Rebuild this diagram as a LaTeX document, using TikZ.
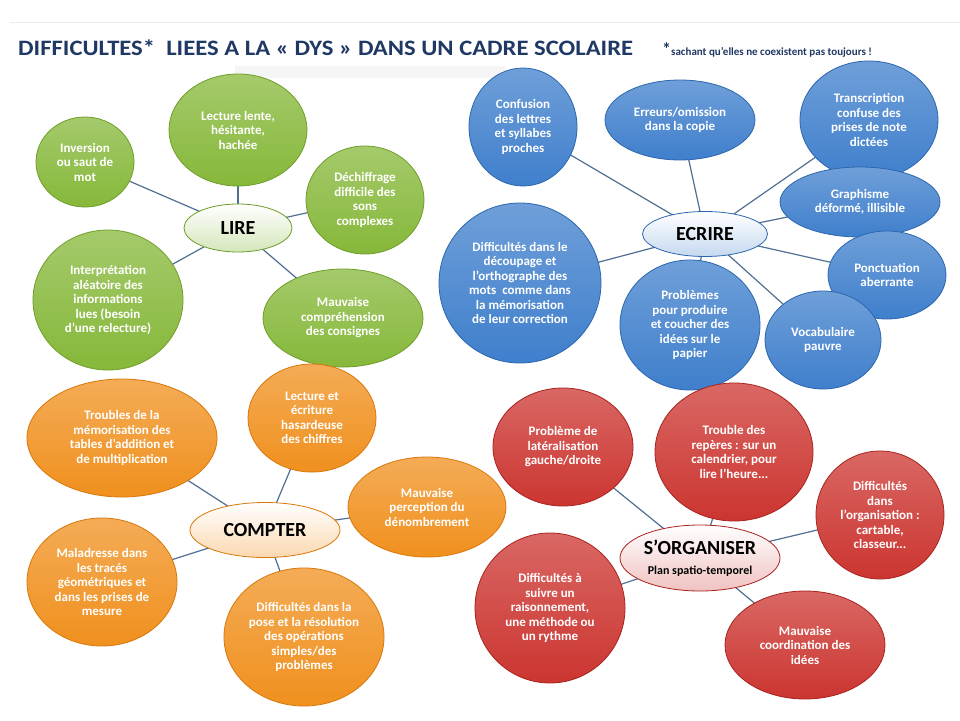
\documentclass[tikz,border=0pt]{standalone}
\usepackage{fontspec}
\setmainfont{Carlito}
\usetikzlibrary{shapes.geometric,backgrounds}
\definecolor{gA}{HTML}{86B83A}\definecolor{gB}{HTML}{6E9E28}
\definecolor{bA}{HTML}{3F7FCC}\definecolor{bB}{HTML}{2C66AE}
\definecolor{oA}{HTML}{F0901E}\definecolor{oB}{HTML}{D9770A}
\definecolor{rA}{HTML}{CC3530}\definecolor{rB}{HTML}{A8221E}
\definecolor{ln}{HTML}{4F6F93}
\definecolor{navy}{HTML}{1F3864}
\tikzset{
 bub/.style n args={2}{ellipse,inner sep=0pt,align=center,text=white,font=\bfseries\fontsize{13}{14.5}\selectfont,
   top color=#1!75!white,bottom color=#1,draw=#2,line width=0.8pt},
 ctr/.style n args={2}{ellipse,inner sep=0pt,align=center,text=black,font=\bfseries\fontsize{20}{22}\selectfont,
   top color=white,bottom color=#1,draw=#2,line width=0.8pt},
 lk/.style={draw=ln,line width=1.2pt}
}
\begin{document}
\begin{tikzpicture}[x=1pt,y=-1pt]
\useasboundingbox (0,0) rectangle (960,720);
\draw[black!8,line width=0.8pt] (10,22) -- (960,22);
\fill[black!4] (235,66) rectangle (505,78);
\node[anchor=west,text=navy,font=\bfseries\fontsize{22}{24}\selectfont,xscale=1.12,inner sep=0pt] (title) at (18,48) {DIFFICULTES*\ \ LIEES A LA « DYS » DANS UN CADRE SCOLAIRE};
\node[anchor=west,text=navy,font=\bfseries\fontsize{11}{12}\selectfont,inner sep=0pt] (note) at (662,50) {{\fontsize{18}{18}\selectfont *}sachant qu'elles ne coexistent pas toujours !};

% LIRE
\node[bub={gA}{gB},minimum width=98pt,minimum height=90pt] (g1) at (85,162) {Inversion\\ou saut de\\mot};
\node[bub={gA}{gB},minimum width=138pt,minimum height=112pt] (g2) at (238,130) {Lecture lente,\\hésitante,\\hachée};
\node[bub={gA}{gB},minimum width=118pt,minimum height=108pt] (g3) at (365,200) {Déchiffrage\\difficile des\\sons\\complexes};
\node[bub={gA}{gB},minimum width=150pt,minimum height=140pt] (g4) at (108,300) {Interprétation\\aléatoire des\\informations\\lues (besoin\\d'une relecture)};
\node[bub={gA}{gB},minimum width=160pt,minimum height=98pt] (g5) at (343,318) {Mauvaise\\compréhension\\des consignes};
\node[ctr={gA!35!white}{gB},minimum width=108pt,minimum height=48pt] (lire) at (238,228) {LIRE};

% ECRIRE
\node[bub={bA}{bB},minimum width=108pt,minimum height=118pt] (b1) at (523,127) {Confusion\\des lettres\\et syllabes\\proches};
\node[bub={bA}{bB},minimum width=150pt,minimum height=80pt] (b2) at (680,120) {Erreurs/omission\\dans la copie};
\node[bub={bA}{bB},minimum width=138pt,minimum height=118pt] (b3) at (869,120) {Transcription\\confuse des\\prises de note\\dictées};
\node[bub={bA}{bB},minimum width=160pt,minimum height=70pt] (b4) at (860,202) {Graphisme\\déformé, illisible};
\node[bub={bA}{bB},minimum width=162pt,minimum height=160pt] (b5) at (520,283) {Difficultés dans le\\découpage et\\l'orthographe des\\mots~ comme dans\\la mémorisation\\de leur correction};
\node[bub={bA}{bB},minimum width=140pt,minimum height=130pt] (b6) at (690,325) {Problèmes\\pour produire\\et coucher des\\idées sur le\\papier};
\node[bub={bA}{bB},minimum width=118pt,minimum height=88pt] (b7) at (887,275) {Ponctuation\\aberrante};
\node[bub={bA}{bB},minimum width=116pt,minimum height=98pt] (b8) at (823,340) {Vocabulaire\\pauvre};
\node[ctr={bA!30!white}{bB},minimum width=125pt,minimum height=45pt] (ecrire) at (705,234) {ECRIRE};

% COMPTER
\node[bub={oA}{oB},minimum width=190pt,minimum height=118pt] (o1) at (122,438) {Troubles de la\\mémorisation des\\tables d'addition et\\de multiplication};
\node[bub={oA}{oB},minimum width=128pt,minimum height=108pt] (o2) at (312,418) {Lecture et\\écriture\\hasardeuse\\des chiffres};
\node[bub={oA}{oB},minimum width=158pt,minimum height=100pt] (o3) at (427,507) {Mauvaise\\perception du\\dénombrement};
\node[bub={oA}{oB},minimum width=150pt,minimum height=128pt] (o4) at (102,582) {Maladresse dans\\les tracés\\géométriques et\\dans les prises de\\mesure};
\node[bub={oA}{oB},minimum width=160pt,minimum height=138pt] (o5) at (304,637) {Difficultés dans la\\pose et la résolution\\des opérations\\simples/des\\problèmes};
\node[ctr={oA!35!white}{oB},minimum width=150pt,minimum height=55pt] (compter) at (265,530) {COMPTER};

% ORGANISER
\node[bub={rA}{rB},minimum width=140pt,minimum height=118pt] (r1) at (563,447) {Problème de\\latéralisation\\gauche/droite};
\node[bub={rA}{rB},minimum width=158pt,minimum height=138pt] (r2) at (734,452) {Trouble des\\repères : sur un\\calendrier, pour\\lire l'heure...};
\node[bub={rA}{rB},minimum width=128pt,minimum height=128pt] (r3) at (880,515) {Difficultés\\dans\\l'organisation :\\cartable,\\classeur...};
\node[bub={rA}{rB},minimum width=150pt,minimum height=150pt] (r4) at (550,608) {Difficultés à\\suivre un\\raisonnement,\\une méthode ou\\un rythme};
\node[bub={rA}{rB},minimum width=160pt,minimum height=108pt] (r5) at (805,645) {Mauvaise\\coordination des\\idées};
\node[ctr={rA!30!white}{rB},minimum width=160pt,minimum height=66pt] (org) at (700,558) {S'ORGANISER\\[-2pt]{\fontsize{12}{13}\selectfont Plan spatio-temporel}};

\begin{scope}[on background layer]
\fill[white] (0,0) rectangle (960,720);
\foreach \n in {g1,g2,g3,g4,g5} \draw[lk] (lire.center) -- (\n.center);
\foreach \n in {b1,b2,b3,b4,b5,b6,b7,b8} \draw[lk] (ecrire.center) -- (\n.center);
\foreach \n in {o1,o2,o3,o4,o5} \draw[lk] (compter.center) -- (\n.center);
\foreach \n in {r1,r2,r3,r4,r5} \draw[lk] (org.center) -- (\n.center);
\end{scope}
\end{tikzpicture}
\end{document}
